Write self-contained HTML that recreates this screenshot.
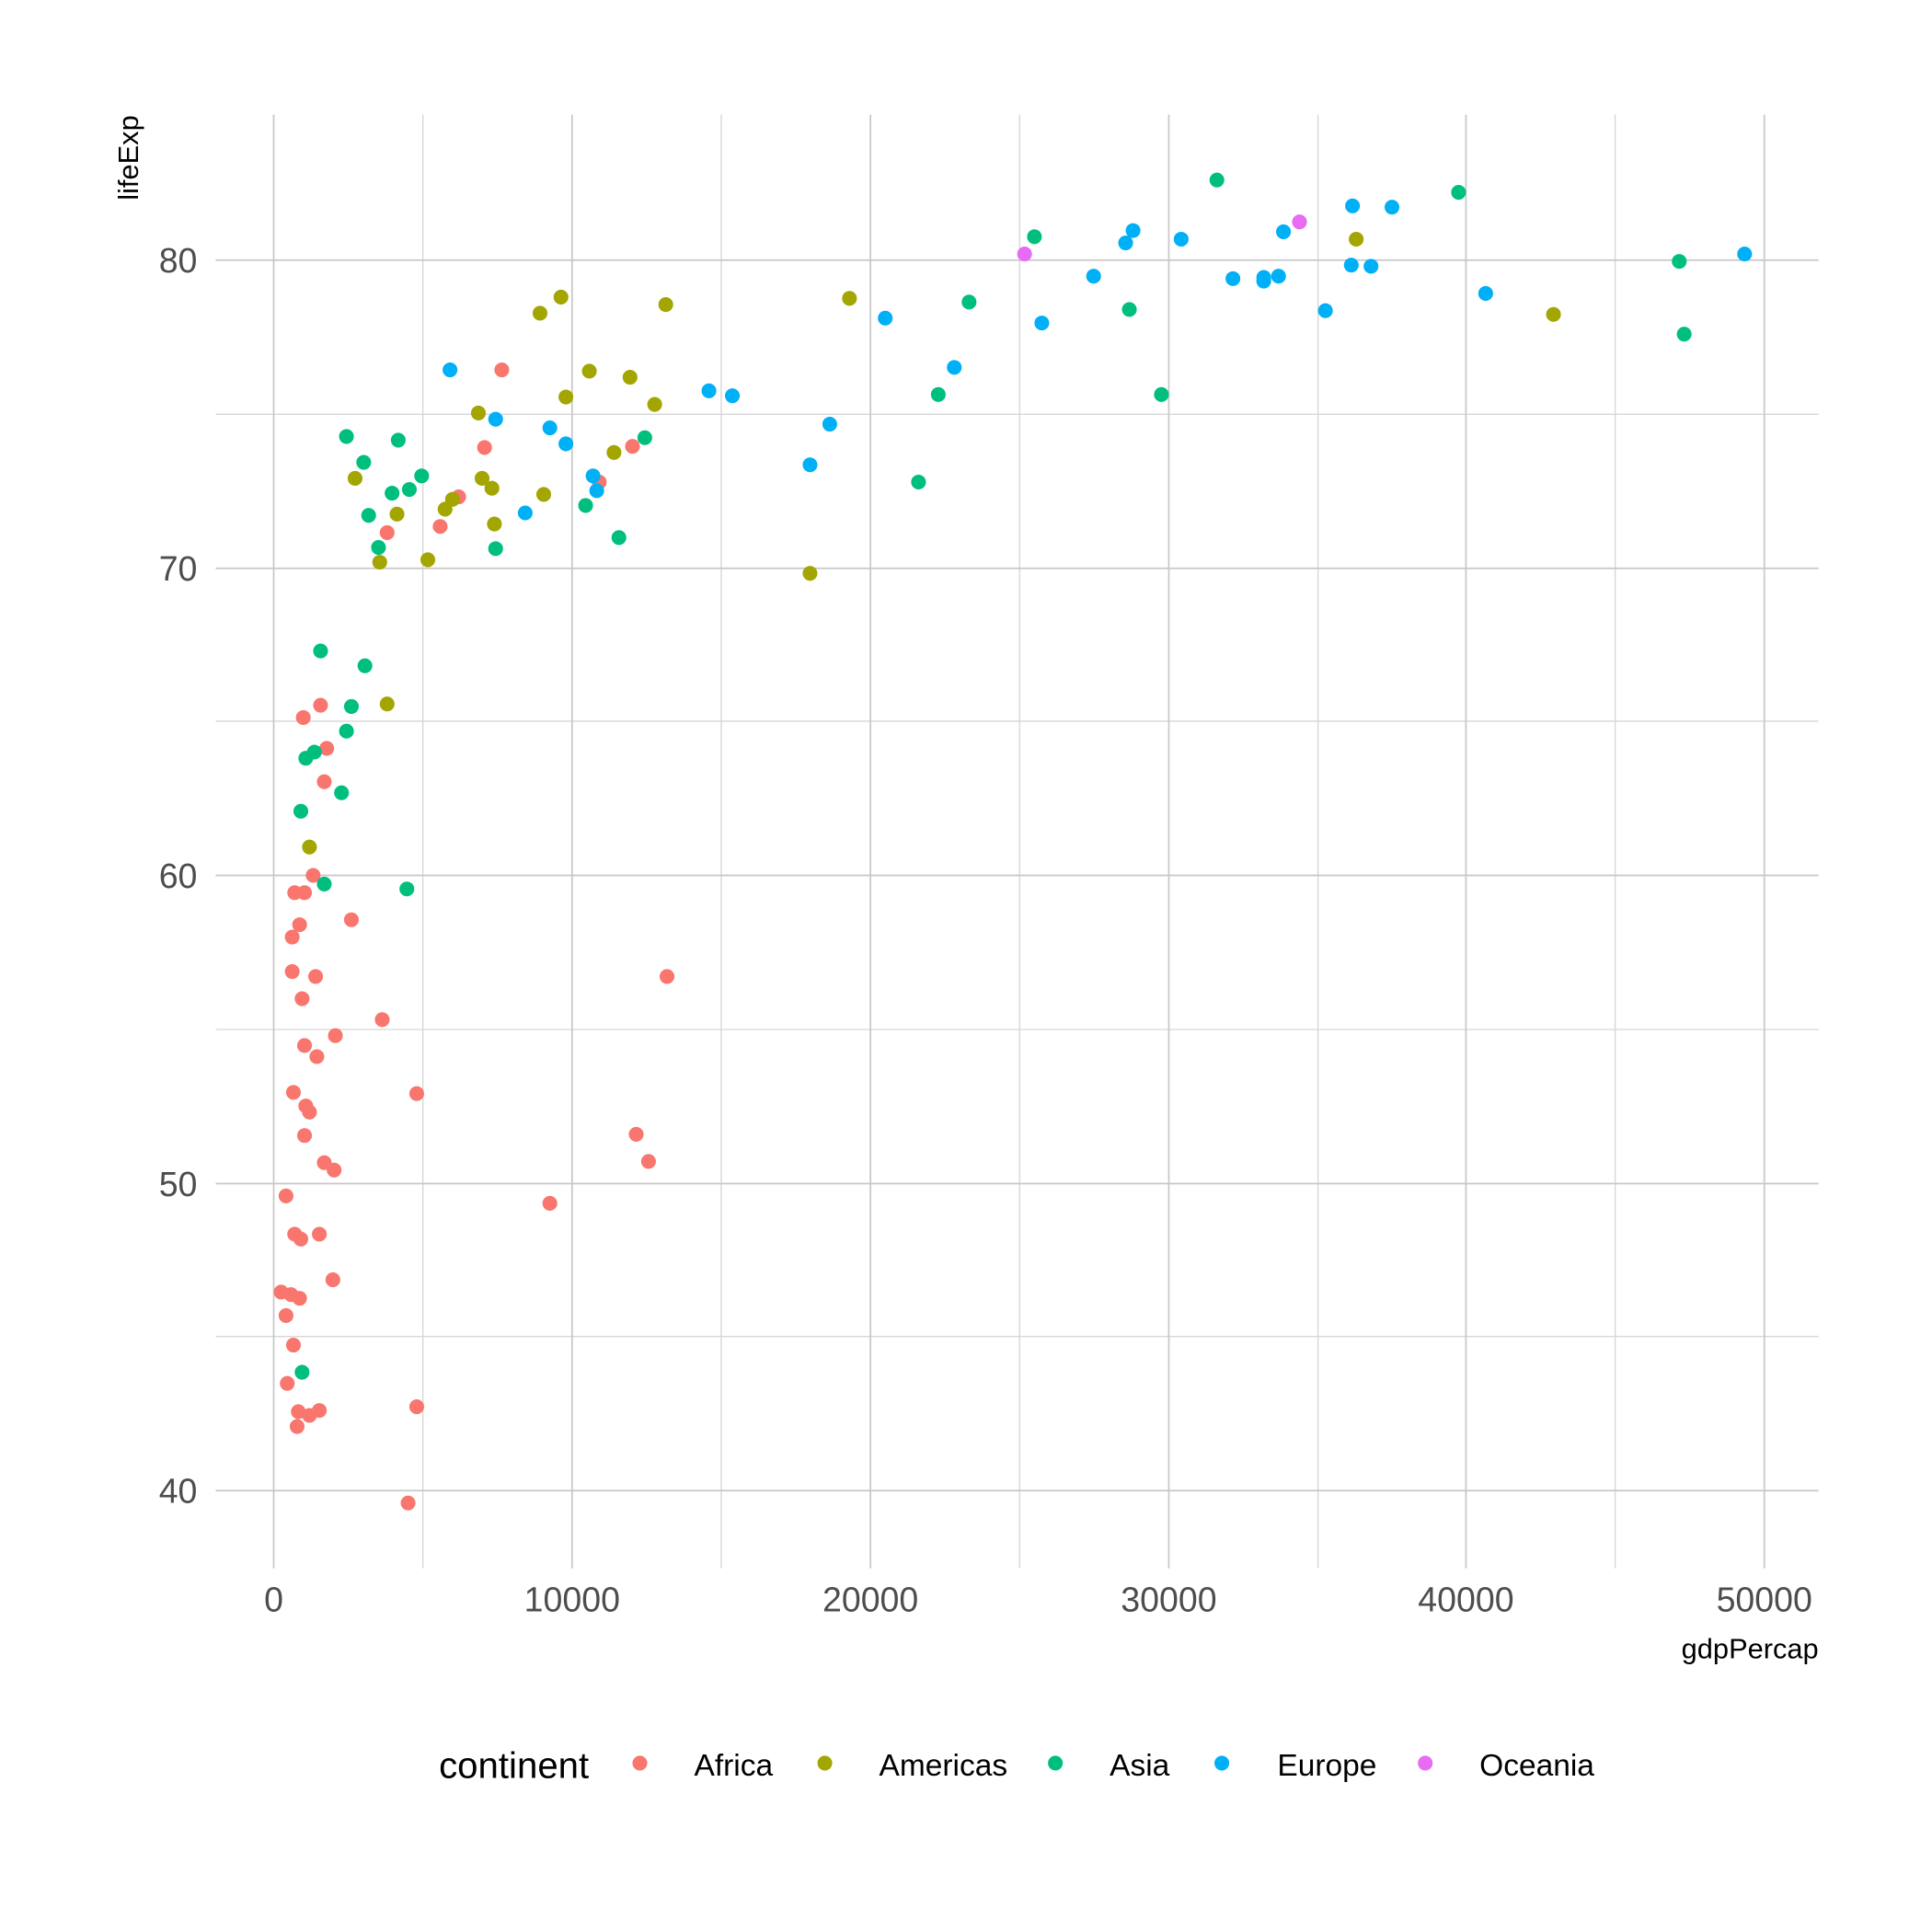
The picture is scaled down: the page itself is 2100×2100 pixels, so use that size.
<!DOCTYPE html>
<html><head><meta charset="utf-8"><style>
html,body{margin:0;padding:0;background:#fff;}
svg{display:block;}
text{font-family:"Liberation Sans Narrow","Liberation Sans",sans-serif;}
</style></head><body>
<svg width="2100" height="2100" viewBox="0 0 1567 1567" xmlns="http://www.w3.org/2000/svg">
<rect width="1567" height="1567" fill="#fff"/>
<g stroke="#d6d6d6" stroke-width="1">
<line x1="343" y1="93" x2="343" y2="1272"/><line x1="585" y1="93" x2="585" y2="1272"/>
<line x1="827" y1="93" x2="827" y2="1272"/><line x1="1069" y1="93" x2="1069" y2="1272"/>
<line x1="1310" y1="93" x2="1310" y2="1272"/>
<line x1="175" y1="336" x2="1475" y2="336"/><line x1="175" y1="585" x2="1475" y2="585"/>
<line x1="175" y1="835" x2="1475" y2="835"/><line x1="175" y1="1084" x2="1475" y2="1084"/>
</g>
<g stroke="#c8c8c8" stroke-width="1.3">
<line x1="222" y1="93" x2="222" y2="1272"/><line x1="464" y1="93" x2="464" y2="1272"/>
<line x1="706" y1="93" x2="706" y2="1272"/><line x1="948" y1="93" x2="948" y2="1272"/>
<line x1="1189" y1="93" x2="1189" y2="1272"/><line x1="1431" y1="93" x2="1431" y2="1272"/>
<line x1="175" y1="211" x2="1475" y2="211"/><line x1="175" y1="461" x2="1475" y2="461"/>
<line x1="175" y1="710" x2="1475" y2="710"/><line x1="175" y1="960" x2="1475" y2="960"/>
<line x1="175" y1="1209" x2="1475" y2="1209"/>
</g>
<g fill="#4d4d4d" font-size="28" text-anchor="end">
<text x="160" y="221">80</text><text x="160" y="471">70</text><text x="160" y="720">60</text>
<text x="160" y="970">50</text><text x="160" y="1219">40</text>
</g>
<g fill="#4d4d4d" font-size="28" text-anchor="middle">
<text x="222" y="1307">0</text><text x="464" y="1307">10000</text><text x="706" y="1307">20000</text>
<text x="948" y="1307">30000</text><text x="1189" y="1307">40000</text><text x="1431" y="1307">50000</text>
</g>
<text x="1475" y="1345" font-size="23" text-anchor="end" fill="#000">gdpPercap</text>
<text transform="translate(112,128) rotate(-90)" font-size="23" text-anchor="middle" fill="#000">lifeExp</text>
<g fill="#F8766D">
<circle cx="407" cy="300" r="6"/><circle cx="393" cy="363" r="6"/><circle cx="513" cy="362" r="6"/><circle cx="486" cy="391" r="6"/><circle cx="372" cy="403" r="6"/><circle cx="314" cy="432" r="6"/><circle cx="357" cy="427" r="6"/><circle cx="246" cy="582" r="6"/><circle cx="260" cy="572" r="6"/><circle cx="265" cy="607" r="6"/><circle cx="263" cy="634" r="6"/><circle cx="254" cy="710" r="6"/><circle cx="239" cy="724" r="6"/><circle cx="247" cy="724" r="6"/><circle cx="285" cy="746" r="6"/><circle cx="243" cy="750" r="6"/><circle cx="237" cy="760" r="6"/><circle cx="237" cy="788" r="6"/><circle cx="256" cy="792" r="6"/><circle cx="245" cy="810" r="6"/><circle cx="541" cy="792" r="6"/><circle cx="310" cy="827" r="6"/><circle cx="272" cy="840" r="6"/><circle cx="247" cy="848" r="6"/><circle cx="257" cy="857" r="6"/><circle cx="238" cy="886" r="6"/><circle cx="338" cy="887" r="6"/><circle cx="248" cy="897" r="6"/><circle cx="251" cy="902" r="6"/><circle cx="247" cy="921" r="6"/><circle cx="516" cy="920" r="6"/><circle cx="526" cy="942" r="6"/><circle cx="263" cy="943" r="6"/><circle cx="271" cy="949" r="6"/><circle cx="232" cy="970" r="6"/><circle cx="446" cy="976" r="6"/><circle cx="239" cy="1001" r="6"/><circle cx="244" cy="1005" r="6"/><circle cx="259" cy="1001" r="6"/><circle cx="270" cy="1038" r="6"/><circle cx="228" cy="1048" r="6"/><circle cx="236" cy="1050" r="6"/><circle cx="243" cy="1053" r="6"/><circle cx="232" cy="1067" r="6"/><circle cx="238" cy="1091" r="6"/><circle cx="233" cy="1122" r="6"/><circle cx="242" cy="1145" r="6"/><circle cx="259" cy="1144" r="6"/><circle cx="251" cy="1148" r="6"/><circle cx="241" cy="1157" r="6"/><circle cx="338" cy="1141" r="6"/><circle cx="331" cy="1219" r="6"/>
</g>
<g fill="#A3A500">
<circle cx="438" cy="254" r="6"/><circle cx="455" cy="241" r="6"/><circle cx="540" cy="247" r="6"/><circle cx="689" cy="242" r="6"/><circle cx="478" cy="301" r="6"/><circle cx="511" cy="306" r="6"/><circle cx="459" cy="322" r="6"/><circle cx="531" cy="328" r="6"/><circle cx="388" cy="335" r="6"/><circle cx="498" cy="367" r="6"/><circle cx="288" cy="388" r="6"/><circle cx="391" cy="388" r="6"/><circle cx="399" cy="396" r="6"/><circle cx="441" cy="401" r="6"/><circle cx="322" cy="417" r="6"/><circle cx="361" cy="413" r="6"/><circle cx="367" cy="405" r="6"/><circle cx="401" cy="425" r="6"/><circle cx="308" cy="456" r="6"/><circle cx="347" cy="454" r="6"/><circle cx="657" cy="465" r="6"/><circle cx="314" cy="571" r="6"/><circle cx="251" cy="687" r="6"/><circle cx="1100" cy="194" r="6"/><circle cx="1260" cy="255" r="6"/>
</g>
<g fill="#00BF7D">
<circle cx="987" cy="146" r="6"/><circle cx="1183" cy="156" r="6"/><circle cx="839" cy="192" r="6"/><circle cx="1362" cy="212" r="6"/><circle cx="786" cy="245" r="6"/><circle cx="916" cy="251" r="6"/><circle cx="1366" cy="271" r="6"/><circle cx="761" cy="320" r="6"/><circle cx="942" cy="320" r="6"/><circle cx="745" cy="391" r="6"/><circle cx="281" cy="354" r="6"/><circle cx="323" cy="357" r="6"/><circle cx="523" cy="355" r="6"/><circle cx="295" cy="375" r="6"/><circle cx="342" cy="386" r="6"/><circle cx="318" cy="400" r="6"/><circle cx="332" cy="397" r="6"/><circle cx="299" cy="418" r="6"/><circle cx="475" cy="410" r="6"/><circle cx="307" cy="444" r="6"/><circle cx="402" cy="445" r="6"/><circle cx="502" cy="436" r="6"/><circle cx="260" cy="528" r="6"/><circle cx="296" cy="540" r="6"/><circle cx="285" cy="573" r="6"/><circle cx="281" cy="593" r="6"/><circle cx="255" cy="610" r="6"/><circle cx="248" cy="615" r="6"/><circle cx="277" cy="643" r="6"/><circle cx="244" cy="658" r="6"/><circle cx="263" cy="717" r="6"/><circle cx="330" cy="721" r="6"/><circle cx="245" cy="1113" r="6"/>
</g>
<g fill="#00B0F6">
<circle cx="365" cy="300" r="6"/><circle cx="402" cy="340" r="6"/><circle cx="446" cy="347" r="6"/><circle cx="459" cy="360" r="6"/><circle cx="481" cy="386" r="6"/><circle cx="484" cy="398" r="6"/><circle cx="426" cy="416" r="6"/><circle cx="575" cy="317" r="6"/><circle cx="594" cy="321" r="6"/><circle cx="673" cy="344" r="6"/><circle cx="657" cy="377" r="6"/><circle cx="718" cy="258" r="6"/><circle cx="774" cy="298" r="6"/><circle cx="845" cy="262" r="6"/><circle cx="887" cy="224" r="6"/><circle cx="913" cy="197" r="6"/><circle cx="919" cy="187" r="6"/><circle cx="958" cy="194" r="6"/><circle cx="1000" cy="226" r="6"/><circle cx="1025" cy="228" r="6"/><circle cx="1025" cy="225" r="6"/><circle cx="1037" cy="224" r="6"/><circle cx="1041" cy="188" r="6"/><circle cx="1097" cy="167" r="6"/><circle cx="1096" cy="215" r="6"/><circle cx="1112" cy="216" r="6"/><circle cx="1129" cy="168" r="6"/><circle cx="1075" cy="252" r="6"/><circle cx="1205" cy="238" r="6"/><circle cx="1415" cy="206" r="6"/>
</g>
<g fill="#E76BF3"><circle cx="831" cy="206" r="6"/><circle cx="1054" cy="180" r="6"/></g>
<text x="356" y="1442" font-size="30" fill="#000">continent</text>
<circle cx="519" cy="1430" r="6" fill="#F8766D"/><circle cx="669" cy="1430" r="6" fill="#A3A500"/>
<circle cx="856" cy="1430" r="6" fill="#00BF7D"/><circle cx="991" cy="1430" r="6" fill="#00B0F6"/>
<circle cx="1156" cy="1430" r="6" fill="#E76BF3"/>
<g font-size="25" fill="#000">
<text x="563" y="1440">Africa</text><text x="713" y="1440">Americas</text><text x="900" y="1440">Asia</text>
<text x="1036" y="1440">Europe</text><text x="1200" y="1440">Oceania</text>
</g>
</svg>
</body></html>
